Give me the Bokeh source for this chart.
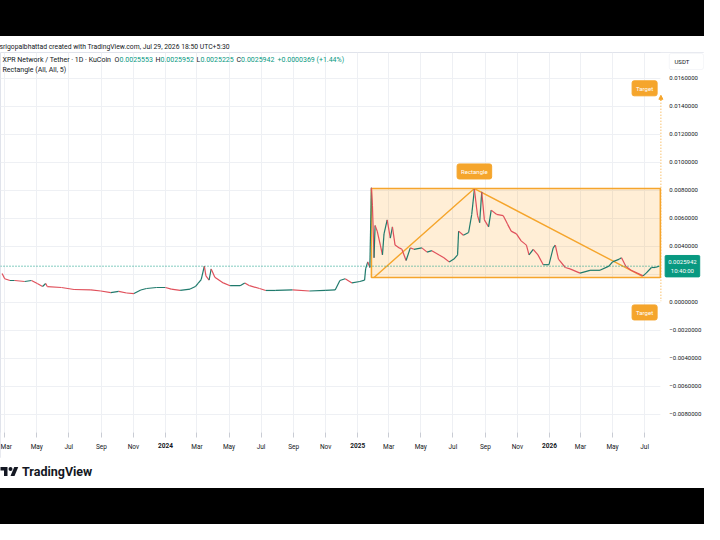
import datetime as dt
from bokeh.plotting import figure
from bokeh.models import (Range1d, FixedTicker, CustomJSTickFormatter, Label, Div, Title,
                          Arrow, NormalHead, BoxAnnotation, DatetimeAxis)
from bokeh.layouts import column
from bokeh.embed import file_html
from bokeh.resources import INLINE

# ---------------- data ----------------
dates = [
    "2023-02-24", "2023-03-01", "2023-03-11", "2023-03-20", "2023-04-08", "2023-04-21",
    "2023-05-02", "2023-05-12", "2023-05-18", "2023-05-21", "2023-06-17", "2023-07-11",
    "2023-08-12", "2023-08-31", "2023-09-19", "2023-10-04", "2023-10-19", "2023-11-02",
    "2023-11-15", "2023-11-26", "2023-12-15", "2024-01-01", "2024-01-12", "2024-01-29",
    "2024-02-17", "2024-02-27", "2024-03-03", "2024-03-09", "2024-03-15", "2024-03-18",
    "2024-03-24", "2024-03-28", "2024-04-04", "2024-04-20", "2024-05-03", "2024-05-22",
    "2024-05-31", "2024-06-09", "2024-06-28", "2024-07-10", "2024-07-29", "2024-08-30",
    "2024-10-01", "2024-10-31", "2024-11-19", "2024-11-28", "2024-12-08", "2024-12-21",
    "2025-01-05", "2025-01-14", "2025-01-16", "2025-01-20", "2025-01-24", "2025-01-27",
    "2025-01-29", "2025-02-01", "2025-02-03", "2025-02-07", "2025-02-13", "2025-02-17",
    "2025-02-20", "2025-02-26", "2025-03-04", "2025-03-08", "2025-03-13", "2025-03-21",
    "2025-03-26", "2025-04-03", "2025-04-11", "2025-04-18", "2025-05-03", "2025-05-13",
    "2025-05-22", "2025-06-05", "2025-06-14", "2025-06-24", "2025-07-03", "2025-07-10",
    "2025-07-12", "2025-07-21", "2025-07-31", "2025-08-06", "2025-08-11", "2025-08-17",
    "2025-08-21", "2025-08-25", "2025-08-30", "2025-09-07", "2025-09-12", "2025-09-22",
    "2025-10-05", "2025-10-13", "2025-10-20", "2025-10-30", "2025-11-08", "2025-11-18",
    "2025-11-23", "2025-12-01", "2025-12-10", "2025-12-20", "2025-12-31", "2026-01-08",
    "2026-01-12", "2026-01-18", "2026-01-31", "2026-02-09", "2026-02-28", "2026-03-19",
    "2026-04-07", "2026-04-24", "2026-05-01", "2026-05-14", "2026-05-18", "2026-05-26",
    "2026-06-05", "2026-06-17", "2026-06-28", "2026-07-04", "2026-07-14", "2026-07-21",
    "2026-07-29",
]
closes = [
    0.00207, 0.00170, 0.00157, 0.00157, 0.00150, 0.00157,
    0.00136, 0.00114, 0.00136, 0.00114, 0.00107, 0.00093,
    0.00090, 0.00082, 0.00071, 0.00079, 0.00068, 0.00064,
    0.00089, 0.00100, 0.00107, 0.00107, 0.00096, 0.00086,
    0.00096, 0.00114, 0.00136, 0.00164, 0.00260, 0.00190,
    0.00160, 0.00240, 0.00180, 0.00140, 0.00120, 0.00120,
    0.00140, 0.00120, 0.00100, 0.00086, 0.00086, 0.00090,
    0.00082, 0.00086, 0.00090, 0.00157, 0.00170, 0.00140,
    0.00150, 0.00160, 0.00240, 0.00290, 0.00250, 0.00820,
    0.00690, 0.00320, 0.00550, 0.00510, 0.00410, 0.00340,
    0.00490, 0.00590, 0.00460, 0.00540, 0.00410, 0.00390,
    0.00380, 0.00300, 0.00390, 0.00380, 0.00390, 0.00360,
    0.00370, 0.00340, 0.00320, 0.00290, 0.00310, 0.00340,
    0.00510, 0.00480, 0.00500, 0.00630, 0.00810, 0.00620,
    0.00570, 0.00790, 0.00590, 0.00540, 0.00660, 0.00630,
    0.00620, 0.00560, 0.00510, 0.00490, 0.00440, 0.00410,
    0.00340, 0.00380, 0.00340, 0.00270, 0.00270, 0.00390,
    0.00410, 0.00310, 0.00250, 0.00240, 0.00210, 0.00230,
    0.00230, 0.00260, 0.00290, 0.00310, 0.00320, 0.00260,
    0.00230, 0.00210, 0.00190, 0.00210, 0.00250, 0.00250,
    0.0025942,
]

month_ticks = ["2023-03-01", "2023-05-01", "2023-07-01", "2023-09-01", "2023-11-01",
               "2024-03-01", "2024-05-01", "2024-07-01", "2024-09-01", "2024-11-01",
               "2025-03-01", "2025-05-01", "2025-07-01", "2025-09-01", "2025-11-01",
               "2026-03-01", "2026-05-01", "2026-07-01"]
year_ticks = ["2024-01-01", "2025-01-01", "2026-01-01"]
price_ticks = [-0.008, -0.006, -0.004, -0.002, 0.0, 0.002, 0.004, 0.006, 0.008,
               0.010, 0.012, 0.014, 0.016]

last_price = 0.0025942
last_time = "10:40:00"
rect_start, rect_end = "2025-01-27", "2026-07-31"
rect_bottom, rect_top = 0.00179, 0.00814
pattern_dates = ["2025-02-01", "2025-08-11", "2026-06-27"]
pattern_prices = [0.00179, 0.00814, 0.00186]
target_up, target_down = 0.0153, -0.00071

header = "srigopalbhattad created with TradingView.com, Jul 29, 2026 18:50 UTC+5:30"
symbol = "XPR Network / Tether · 1D · KuCoin"
ohlc = [("O", "0.0025553"), ("H", "0.0025952"), ("L", "0.0025225"), ("C", "0.0025942")]
change = "+0.0000369 (+1.44%)"
currency = "USDT"


def d(s):
    return dt.datetime.strptime(s, "%Y-%m-%d")


def ms(s):
    return d(s).replace(tzinfo=dt.timezone.utc).timestamp() * 1000.0


FONT = "Roboto"
INK = "#131722"
UP, DOWN = "#1f7a6c", "#e0505b"
GREEN = "#089981"
ORANGE = "#f5a52c"
GRID = "#eef0f4"
Y_AXIS_LINE = -0.009286          # bottom of the price pane (time scale starts here)
YMIN, YMAX = -0.011143, 0.017857  # full pane incl. time scale

axis_date = "2026-07-31"          # where the price scale starts
x0 = d("2023-02-21")
x1 = d("2026-10-23")
p = figure(width=704, height=422, x_axis_type="datetime", y_axis_location="right",
           x_range=Range1d(x0, x1), y_range=Range1d(YMIN, YMAX),
           output_backend="svg", toolbar_location=None,
           min_border_left=0, min_border_right=0, min_border_top=16, min_border_bottom=0)
p.outline_line_color = "#e0e3eb"
p.background_fill_color = "white"
p.border_fill_color = "white"

MONTH_FMT = CustomJSTickFormatter(code="""
const dd = new Date(tick);
const m = dd.getUTCMonth();
const n = ["Jan","Feb","Mar","Apr","May","Jun","Jul","Aug","Sep","Oct","Nov","Dec"];
return m == 0 ? String(dd.getUTCFullYear()) : n[m];
""")


def style_time_axis(ax, bold):
    ax.formatter = MONTH_FMT
    ax.fixed_location = Y_AXIS_LINE
    ax.axis_line_color = None
    ax.major_tick_line_color = "#c9ccd4"
    ax.major_tick_in = 0
    ax.major_tick_out = 5
    ax.minor_tick_line_color = None
    ax.major_label_text_font = FONT
    ax.major_label_text_font_size = "6.5px"
    ax.major_label_text_font_style = "bold" if bold else "normal"
    ax.major_label_text_color = INK
    ax.major_label_standoff = 5


# time axis: months, and years in bold on the same line
xa = p.xaxis[0]
xa.ticker = FixedTicker(ticks=[ms(t) for t in month_ticks])
style_time_axis(xa, False)
xyears = DatetimeAxis(ticker=FixedTicker(ticks=[ms(t) for t in year_ticks]))
style_time_axis(xyears, True)
p.add_layout(xyears, "below")

# price axis, drawn at the right edge of the chart pane
ya = p.yaxis[0]
ya.fixed_location = ms(axis_date)
ya.ticker = FixedTicker(ticks=price_ticks)
ya.formatter = CustomJSTickFormatter(code="""
const a = Math.abs(tick) < 1e-12 ? 0 : tick;
return (a < 0 ? "\\u2212" : "") + Math.abs(a).toFixed(7);
""")
ya.axis_line_color = None
ya.major_tick_line_color = None
ya.major_tick_out = 0
ya.minor_tick_line_color = None
ya.major_label_text_font = FONT
ya.major_label_text_font_size = "6px"
ya.major_label_text_color = INK
ya.major_label_standoff = 9

p.xgrid.grid_line_color = GRID
p.ygrid.grid_line_color = GRID
p.xgrid.ticker = FixedTicker(ticks=sorted(ms(t) for t in month_ticks + year_ticks))
p.ygrid.ticker = ya.ticker

# blank price-scale and time-scale panes (cover the grid)
p.add_layout(BoxAnnotation(left=ms(axis_date), fill_color="white", fill_alpha=1.0,
                           line_color=None, level="underlay"))
p.add_layout(BoxAnnotation(top=Y_AXIS_LINE, fill_color="white", fill_alpha=1.0,
                           line_color=None, level="underlay"))

# rectangle pattern
p.quad(left=[d(rect_start)], right=[d(rect_end)], bottom=[rect_bottom], top=[rect_top],
       fill_color="#ff9800", fill_alpha=0.16, line_color=ORANGE, line_width=1.6)
p.line([d(s) for s in pattern_dates], pattern_prices, line_color=ORANGE, line_width=1.4)

# price series
xs0, ys0, xs1, ys1, cols = [], [], [], [], []
for i in range(1, len(dates)):
    xs0.append(d(dates[i - 1]))
    xs1.append(d(dates[i]))
    ys0.append(closes[i - 1])
    ys1.append(closes[i])
    cols.append(UP if closes[i] >= closes[i - 1] else DOWN)
p.segment(x0=xs0, y0=ys0, x1=xs1, y1=ys1, line_color=cols, line_width=1.2)

# current price line
p.segment(x0=[x0], y0=[last_price], x1=[d(axis_date)], y1=[last_price],
          line_color=GREEN, line_dash="1 2", line_width=1)

# target dotted line
tx = d("2026-08-01")
p.segment(x0=[tx], y0=[0.0147], x1=[tx], y1=[0.0001], line_color=ORANGE,
          line_dash="1 2", line_width=1)
p.add_layout(Arrow(end=NormalHead(size=4, fill_color=ORANGE, line_color=ORANGE),
                   x_start=tx, y_start=0.0144, x_end=tx, y_end=0.0148,
                   line_color=ORANGE, line_width=1))


def box_label(x, y, text):
    p.add_layout(Label(x=x, y=y, text=text, text_font=FONT, text_font_size="6px",
                       text_color="white", text_align="center", text_baseline="middle",
                       background_fill_color=ORANGE, border_line_color=ORANGE,
                       padding=4, border_radius=2))


box_label(d("2026-07-01"), target_up, "Target")
box_label(d("2026-07-01"), target_down, "Target")
box_label(d("2025-08-11"), 0.00936, "Rectangle")

# last price tag on the price scale
p.add_layout(Label(x=d("2026-09-11"), y=last_price, text=f"{last_price:.7f}\n{last_time}",
                   text_font=FONT, text_font_size="6px", text_color="white",
                   text_align="center", text_baseline="middle",
                   background_fill_color=GREEN, border_line_color=GREEN,
                   padding=3, border_radius=1))

# currency box
p.add_layout(BoxAnnotation(left=ms("2026-08-17"), right=ms("2026-10-21"),
                           bottom=0.01664, top=0.01779, fill_color="white",
                           fill_alpha=1.0, line_color="#dfe2ea", line_width=1,
                           border_radius=2))
p.add_layout(Label(x=d("2026-09-10"), y=0.01722, text=currency,
                   text_font=FONT, text_font_size="6px", text_color=INK,
                   text_align="center", text_baseline="middle"))

# header
p.add_layout(Title(text=header, align="left", text_font=FONT, text_font_size="6.8px",
                   text_font_style="normal", text_color=INK, standoff=3, offset=-1),
             "above")


def hlabel(x, y, text, color=INK):
    p.add_layout(Label(x=x, y=y, x_units="screen", y_units="screen", text=text,
                       text_font=FONT, text_font_size="7px", text_color=color,
                       text_baseline="middle"))


hlabel(2, 399, symbol)
hlabel(2, 389, "Rectangle (All, All, 5)")
letter_x = [114, 155, 196, 236]
letter_w = [5.0, 5.0, 3.9, 4.6]
for (k, v), xp, w in zip(ohlc, letter_x, letter_w):
    hlabel(xp, 399, k)
    hlabel(xp + w, 399, v, GREEN)
hlabel(277, 399, change, GREEN)

logo_svg = ('<svg width="19" height="14" viewBox="0 0 36 28" xmlns="http://www.w3.org/2000/svg">'
            '<path d="M14 22H7V11H0V4h14v18z" fill="#131722"/>'
            '<path d="M28 22h-8l7.5-18h8L28 22z" fill="#131722"/>'
            '<circle cx="20" cy="8" r="4" fill="#131722"/></svg>')
logo = Div(width=704, height=30, margin=0,
           text=('<div style="display:flex;align-items:center;height:28px;padding-left:0px;'
                 'font-family:Roboto;font-weight:bold;font-size:12.5px;color:#131722">'
                 + logo_svg + '<span style="margin-left:3px">TradingView</span></div>'))

top_bar = Div(width=704, height=36, margin=0, styles={"background-color": "#000"})
bot_bar = Div(width=704, height=36, margin=0, styles={"background-color": "#000"})
layout = column(top_bar, p, logo, bot_bar, spacing=0)

open("out.html", "w").write(file_html(layout, INLINE))
